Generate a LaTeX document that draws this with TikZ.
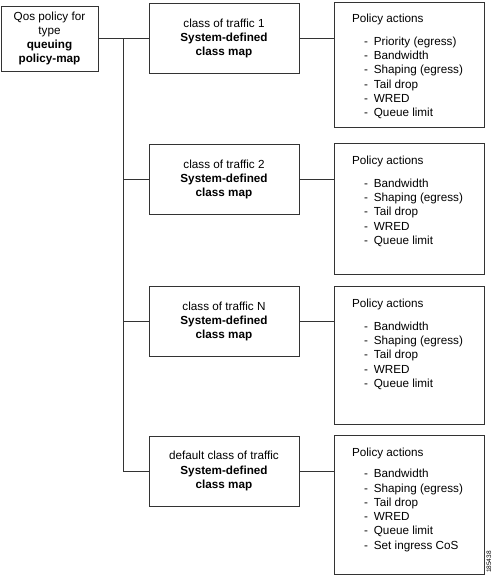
\documentclass[tikz,border=0pt]{standalone}
\usepackage{fontspec}
\setmainfont{Liberation Sans}
\usetikzlibrary{positioning}
\colorlet{linegray}{black!80}
\newcommand{\actitem}[1]{\hspace*{12bp}-\hspace{6bp}#1}

\begin{document}
\begin{tikzpicture}[x=1bp, y=-1bp, line width=0.8bp,
    every node/.style={font=\fontsize{11.7bp}{14.3bp}\selectfont},
    policybox/.style={rectangle, draw=linegray, minimum width=97bp, minimum height=65bp, align=center, inner sep=0pt},
    classbox/.style={rectangle, draw=linegray, minimum width=150bp, minimum height=70bp, align=center, inner sep=0pt},
    actbox/.style={rectangle, draw=linegray, minimum width=150bp, inner sep=0pt},
    acttext/.style={align=left, inner sep=0pt},
    conn/.style={draw=linegray}]
                \useasboundingbox (0,0) rectangle (496,575);

                % policy map and its class maps
                \node[policybox] (policy) at (49.5,38.5) {Qos policy for\\type\\\textbf{queuing}\\\textbf{policy-map}};
                \node[classbox] (cls1) at (224,38.5) {class of traffic 1\\\textbf{System-defined}\\\textbf{class map}};
                \node[classbox] (cls2) at (224,179.5) {class of traffic 2\\\textbf{System-defined}\\\textbf{class map}};
                \node[classbox] (clsN) at (224,321.5) {class of traffic N\\\textbf{System-defined}\\\textbf{class map}};
                \node[classbox] (clsdef) at (224,471) {default class of traffic\\\textbf{System-defined}\\\textbf{class map}};

                % policy actions
                \node[actbox, minimum height=125bp] (act1) at (409,64.5) {};
                \node[actbox, minimum height=131bp] (act2) at (409,208.5) {};
                \node[actbox, minimum height=138bp] (actN) at (409,355) {};
                \node[actbox, minimum height=139bp] (actdef) at (409,504.5) {};

                \node[acttext, below right=12bp and 18bp of act1.north west] (act1txt) {Policy actions\\[8.5bp]
                    \actitem{Priority (egress)}\\\actitem{Bandwidth}\\\actitem{Shaping (egress)}\\
                    \actitem{Tail drop}\\\actitem{WRED}\\\actitem{Queue limit}};
                \node[acttext, below right=13bp and 18bp of act2.north west] (act2txt) {Policy actions\\[8.5bp]
                    \actitem{Bandwidth}\\\actitem{Shaping (egress)}\\
                    \actitem{Tail drop}\\\actitem{WRED}\\\actitem{Queue limit}};
                \node[acttext, below right=13bp and 18bp of actN.north west] (actNtxt) {Policy actions\\[8.5bp]
                    \actitem{Bandwidth}\\\actitem{Shaping (egress)}\\
                    \actitem{Tail drop}\\\actitem{WRED}\\\actitem{Queue limit}};
                \node[acttext, below right=13bp and 18bp of actdef.north west] (actdeftxt) {Policy actions\\[7bp]
                    \actitem{Bandwidth}\\\actitem{Shaping (egress)}\\
                    \actitem{Tail drop}\\\actitem{WRED}\\\actitem{Queue limit}\\\actitem{Set ingress CoS}};

                \node[rotate=90, inner sep=0pt, font=\fontsize{6.5bp}{7bp}\selectfont] (figid) at (489,562) {185438};

                % connectors
                \coordinate (trunk) at (123,38.5);
                \draw[conn] (policy) -- (cls1);
                \draw[conn] (trunk) |- (clsdef.west);
                \draw[conn] (trunk |- cls2.west) -- (cls2.west);
                \draw[conn] (trunk |- clsN.west) -- (clsN.west);

                \draw[conn] (cls1.east) -- (cls1.east -| act1.west);
                \draw[conn] (cls2.east) -- (cls2.east -| act2.west);
                \draw[conn] (clsN.east) -- (clsN.east -| actN.west);
                \draw[conn] (clsdef.east) -- (clsdef.east -| actdef.west);
            \end{tikzpicture}
\end{document}
